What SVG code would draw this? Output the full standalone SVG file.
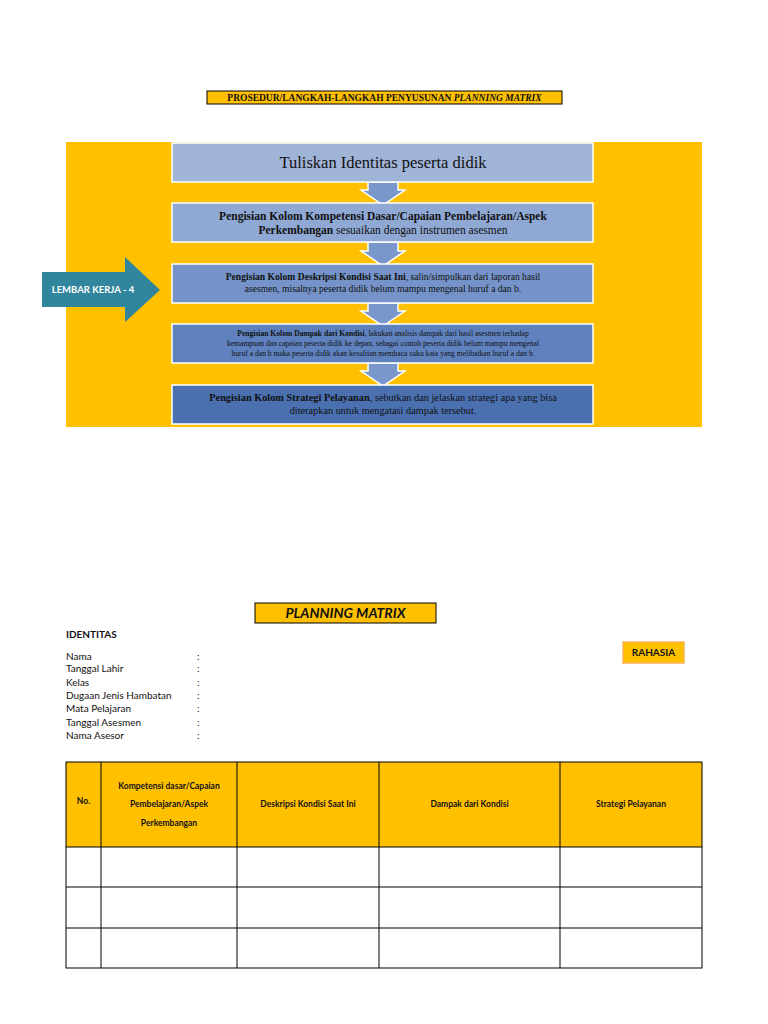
<svg xmlns="http://www.w3.org/2000/svg" width="768" height="1024" viewBox="0 0 768 1024">
<style>
.s{font-family:"Liberation Serif","DejaVu Serif",serif;fill:#111}
.c{font-family:Lato,"Liberation Sans",sans-serif;fill:#111}
.box{stroke:#fff;stroke-width:1.5}
.arr{fill:#7a97cc;stroke:#fff;stroke-width:1.5}
.cell{fill:none;stroke:#000;stroke-width:1}
</style>
<rect width="768" height="1024" fill="#fff"/>
<g id="title">
<rect x="207" y="91" width="355" height="13" fill="#ffc000" stroke="#000"/>
<text x="384.5" y="101" text-anchor="middle" class="s" font-size="9.5" font-weight="bold">PROSEDUR/LANGKAH-LANGKAH PENYUSUNAN <tspan font-style="italic">PLANNING MATRIX</tspan></text>
</g>
<rect x="66" y="142" width="636" height="285" fill="#ffc000"/>
<g id="connectors">
<path class="arr" d="M368,182 H398 V190 H405 L383,205 L361,190 H368 Z" fill="#9fb3d7"/>
<path class="arr" d="M368,242 H398 V251 H405 L383,266 L361,251 H368 Z"/>
<path class="arr" d="M368,303 H398 V311 H405 L383,326 L361,311 H368 Z"/>
<path class="arr" d="M368,363 H398 V371 H405 L383,386 L361,371 H368 Z"/>
</g>
<g id="n1"><rect class="box" x="172" y="143" width="421" height="39" fill="#a0b4d8"/>
<text x="383" y="168" text-anchor="middle" class="s" font-size="16.5">Tuliskan Identitas peserta didik</text></g>
<g id="n2"><rect class="box" x="172" y="203" width="421" height="39" fill="#8fa8d4"/>
<text x="383" y="220" text-anchor="middle" class="s" font-size="11.5"><tspan font-weight="bold">Pengisian Kolom Kompetensi Dasar/Capaian Pembelajaran/Aspek</tspan></text>
<text x="383" y="234" text-anchor="middle" class="s" font-size="11.5"><tspan font-weight="bold">Perkembangan</tspan> sesuaikan dengan instrumen asesmen</text></g>
<g id="n3"><rect class="box" x="172" y="264" width="421" height="39" fill="#7593c8"/>
<text x="383" y="280" text-anchor="middle" class="s" font-size="9.6"><tspan font-weight="bold">Pengisian Kolom Deskripsi Kondisi Saat Ini</tspan>, salin/simpulkan dari laporan hasil</text>
<text x="383" y="292" text-anchor="middle" class="s" font-size="9.6">asesmen, misalnya peserta didik belum mampu mengenal huruf a dan b.</text></g>
<g id="n4"><rect class="box" x="172" y="324" width="421" height="39" fill="#5f82bf"/>
<text x="383" y="336" text-anchor="middle" class="s" font-size="7.6"><tspan font-weight="bold">Pengisian Kolom Dampak dari Kondisi</tspan>, lakukan analisis dampak dari hasil asesmen terhadap</text>
<text x="383" y="346" text-anchor="middle" class="s" font-size="7.6">kemampuan dan capaian peserta didik  ke depan, sebagai contoh peserta didik belum mampu mengenal</text>
<text x="383" y="356" text-anchor="middle" class="s" font-size="7.6">huruf a dan b maka  peserta didik akan kesulitan membaca suku kata yang melibatkan huruf a dan b.</text></g>
<g id="n5"><rect class="box" x="172" y="385" width="421" height="39" fill="#4a70b0"/>
<text x="383" y="401" text-anchor="middle" class="s" font-size="10.3"><tspan font-weight="bold">Pengisian Kolom Strategi Pelayanan</tspan>, sebutkan dan jelaskan strategi apa yang bisa</text>
<text x="383" y="414" text-anchor="middle" class="s" font-size="10.3">diterapkan untuk mengatasi dampak tersebut.</text></g>
<g id="lembar">
<path d="M42,272 H125 V257 L160,290 L125,322 V307 H42 Z" fill="#31859c"/>
<text x="93" y="293" text-anchor="middle" class="c" font-size="9.5" font-weight="bold" fill="#fff" style="fill:#fff">LEMBAR KERJA - 4</text>
</g>
<g id="pm">
<rect x="255" y="603" width="181" height="20" fill="#ffc000" stroke="#000"/>
<text x="345.5" y="618" text-anchor="middle" class="c" font-size="14" font-weight="bold" font-style="italic">PLANNING MATRIX</text>
</g>
<g id="identitas" class="c" font-size="10">
<text x="66" y="638" font-weight="bold">IDENTITAS</text>
<text x="66" y="660">Nama</text><text x="66" y="672">Tanggal Lahir</text><text x="66" y="686">Kelas</text>
<text x="66" y="699">Dugaan Jenis Hambatan</text><text x="66" y="712">Mata Pelajaran</text>
<text x="66" y="726">Tanggal Asesmen</text><text x="66" y="739">Nama Asesor</text>
<text x="197" y="660">:</text><text x="197" y="672">:</text><text x="197" y="686">:</text><text x="197" y="699">:</text><text x="197" y="712">:</text><text x="197" y="726">:</text><text x="197" y="739">:</text>
</g>
<g id="rahasia">
<rect x="623" y="642" width="61" height="21" fill="#ffc000" stroke="#f9b45a" stroke-width="1.5"/>
<text x="653.5" y="656" text-anchor="middle" class="c" font-size="10" font-weight="bold">RAHASIA</text>
</g>
<g id="table">
<rect x="66" y="762" width="636" height="85" fill="#ffc000"/>
<rect class="cell" x="66" y="762" width="636" height="206"/>
<path class="cell" d="M101,762V968M237,762V968M379,762V968M560,762V968M66,847H702M66,887H702M66,928H702"/>
<g class="c" font-size="8.5" font-weight="bold" text-anchor="middle">
<text x="83.5" y="804">No.</text>
<text x="169" y="789">Kompetensi dasar/Capaian</text>
<text x="169" y="807">Pembelajaran/Aspek</text>
<text x="169" y="826">Perkembangan</text>
<text x="308" y="807">Deskripsi Kondisi Saat Ini</text>
<text x="469.5" y="807">Dampak dari Kondisi</text>
<text x="631" y="807">Strategi Pelayanan</text>
</g>
</g>
</svg>
